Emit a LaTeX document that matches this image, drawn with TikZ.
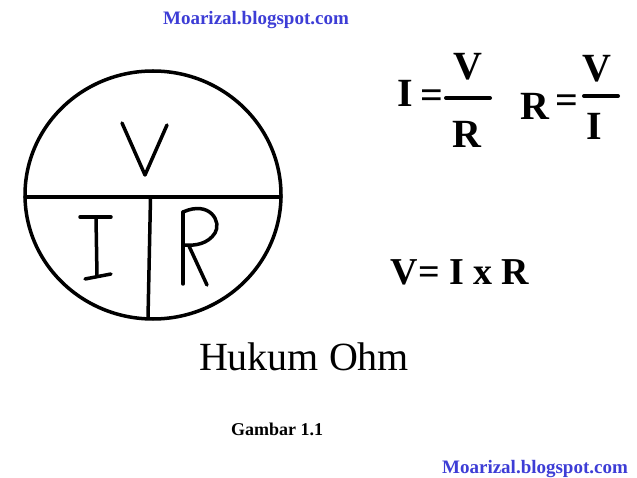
\documentclass[tikz,border=0pt]{standalone}
\usepackage{fontspec}
\setmainfont{Liberation Serif}
\definecolor{moblue}{RGB}{61,61,214}
\begin{document}
\begin{tikzpicture}[x=1pt,y=-1pt,
  hand/.style={line width=3.5pt,line cap=round,line join=round},
  bar/.style={line width=4pt,line cap=round},
  formula/.style={inner sep=0pt,anchor=base,font=\fontsize{40}{40}\selectfont\bfseries},
  link/.style={inner sep=0pt,anchor=base,text=moblue,font=\fontsize{19}{19}\selectfont\bfseries}]
\useasboundingbox[fill=white] (0,0) rectangle (637,478);
% circle diagram
\draw[hand] (153,195) ellipse [x radius=128,y radius=124];
\coordinate (hl) at (25,197);
\coordinate (hr) at (281,197);
\draw[hand] (hl) -- (hr);
\coordinate (vt) at (150.5,198);
\coordinate (vb) at (148,318);
\draw[hand] (vt) -- (vb);
% V
\draw[hand] (122,123) -- (145,175) -- (167,125);
% I
\draw[hand] (80,217) -- (111,217);
\draw[hand] (96,218) -- (97,276);
\draw[hand] (85,279) -- (111,274);
% R
\draw[hand] (183,212) -- (183,284);
\draw[hand] (183,212) .. controls (210,200) and (222,222) .. (215,233) .. controls (208,244) and (195,246) .. (184,245);
\draw[hand] (189,246) -- (207,285);
% formulas
\node[formula] (I1) at (405,107) {I};
\node[formula] (eq1) at (432,109) {=};
\coordinate (b1l) at (446,98);
\coordinate (b1r) at (490,98);
\draw[bar] (b1l) -- (b1r);
\node[formula] (V1) at (468,80) {V};
\node[formula] (R1) at (467,148) {R};
\node[formula] (R2) at (535,120) {R};
\node[formula] (eq2) at (567,114) {=};
\coordinate (b2l) at (584,96);
\coordinate (b2r) at (618,96);
\draw[bar] (b2l) -- (b2r);
\node[formula] (V2) at (597,82) {V};
\node[formula] (I2) at (594,140) {I};
\node[formula,font=\fontsize{38}{38}\selectfont\bfseries] (vir) at (460,284) {V= I x R};
% texts
\node[inner sep=0pt,anchor=base,font=\fontsize{40}{40}\selectfont] (title) at (304,370) {Hukum Ohm};
\node[inner sep=0pt,anchor=base,font=\fontsize{18}{18}\selectfont\bfseries] (cap) at (277,435) {Gambar 1.1};
\node[link] (top) at (256,25) {Moarizal.blogspot.com};
\node[link] (bot) at (535,473) {Moarizal.blogspot.com};
\end{tikzpicture}
\end{document}
